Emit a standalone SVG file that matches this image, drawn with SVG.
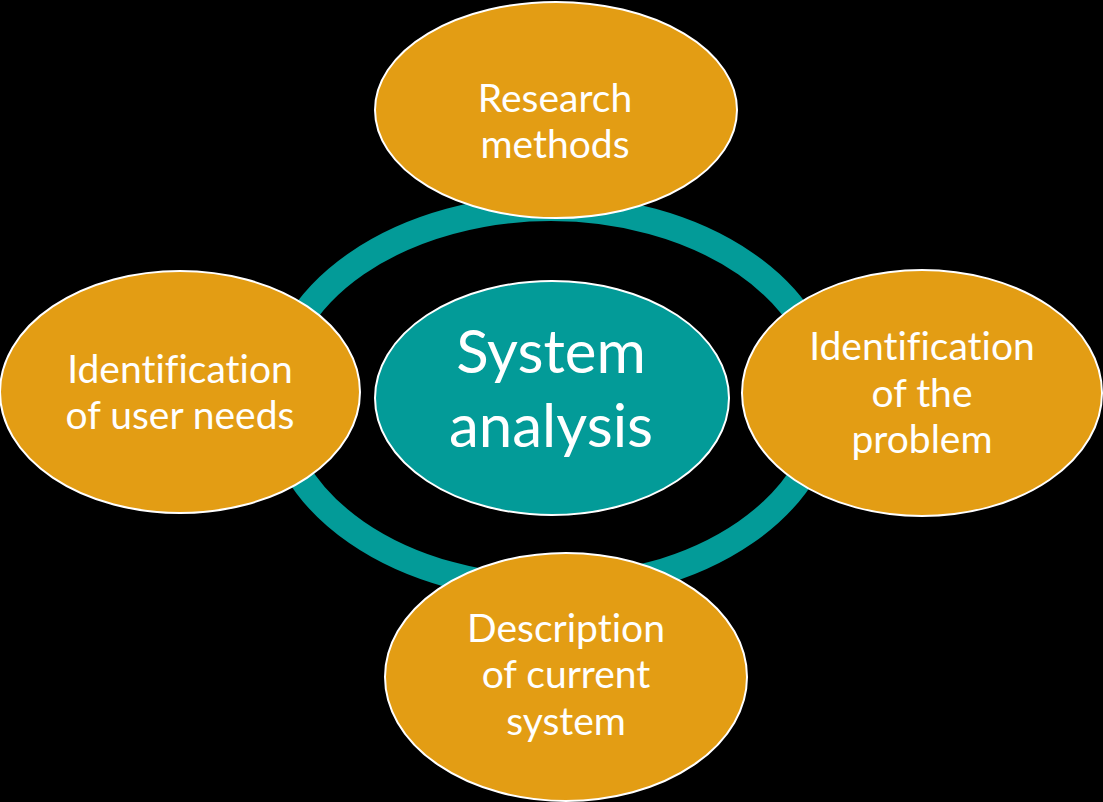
<svg xmlns="http://www.w3.org/2000/svg" width="1103" height="802" viewBox="0 0 1103 802">
<style>
.bg{fill:#000000}
.ring{fill:none;stroke:#039B98;stroke-width:26}
.orange{fill:#E39D14;stroke:#FFFFFF;stroke-width:2}
.teal{fill:#039B98;stroke:#FFFFFF;stroke-width:2}
.lbl{font-family:Lato,"Open Sans","Liberation Sans",sans-serif;fill:#FFFFFF;text-anchor:middle;font-size:39px;font-variant-ligatures:none;font-feature-settings:"liga" 0}
.big{font-size:60px}
</style>
<rect class="bg" x="0" y="0" width="1103" height="802"/>
<g id="connectors">
<ellipse class="ring" cx="551" cy="398" rx="275" ry="190"/>
</g>
<g id="center">
<ellipse class="teal" cx="552" cy="398" rx="177" ry="117"/>
<text class="lbl big" x="551" y="373">System</text>
<text class="lbl big" x="551" y="447">analysis</text>
</g>
<g id="top">
<ellipse class="orange" cx="556" cy="110" rx="181" ry="108"/>
<text class="lbl" x="555" y="112">Research</text>
<text class="lbl" x="555" y="158">methods</text>
</g>
<g id="left">
<ellipse class="orange" cx="180" cy="392" rx="180" ry="121"/>
<text class="lbl" x="180" y="383">Identification</text>
<text class="lbl" x="180" y="429">of user needs</text>
</g>
<g id="right">
<ellipse class="orange" cx="922" cy="393" rx="180" ry="123"/>
<text class="lbl" x="922" y="360">Identification</text>
<text class="lbl" x="922" y="407">of the</text>
<text class="lbl" x="922" y="453">problem</text>
</g>
<g id="bottom">
<ellipse class="orange" cx="566" cy="677" rx="181" ry="124"/>
<text class="lbl" x="566" y="642">Description</text>
<text class="lbl" x="566" y="688">of current</text>
<text class="lbl" x="566" y="735">system</text>
</g>
</svg>
